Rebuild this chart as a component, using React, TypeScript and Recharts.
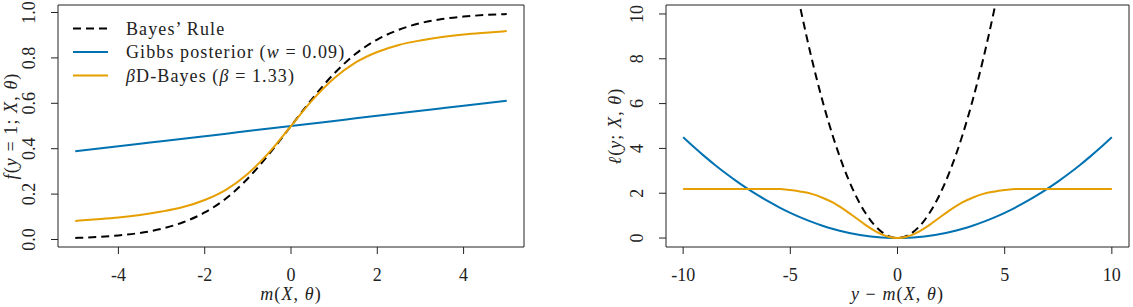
import React from "react";
import { LineChart, Line, XAxis, YAxis, ReferenceArea, Legend, Label } from "recharts";

// left panel: predictive probability against m(X, theta)
const probX = [-5, -4.5, -4, -3.5, -3, -2.5, -2, -1.5, -1, -0.5, 0, 0.5, 1, 1.5, 2, 2.5, 3, 3.5, 4, 4.5, 5];
const bayesProb = [0.007, 0.011, 0.018, 0.029, 0.047, 0.076, 0.119, 0.182, 0.269, 0.378, 0.5, 0.622, 0.731, 0.818, 0.881, 0.924, 0.953, 0.971, 0.982, 0.989, 0.993];
const gibbsProb = [0.389, 0.4, 0.411, 0.422, 0.433, 0.444, 0.455, 0.466, 0.478, 0.489, 0.5, 0.511, 0.522, 0.534, 0.545, 0.556, 0.567, 0.578, 0.589, 0.6, 0.611];
const betaProb = [0.082, 0.089, 0.097, 0.108, 0.123, 0.143, 0.174, 0.22, 0.29, 0.385, 0.5, 0.615, 0.71, 0.78, 0.826, 0.857, 0.877, 0.892, 0.903, 0.911, 0.918];

// right panel: loss against y - m(X, theta)
const lossX = [-10, -9.5, -9, -8.5, -8, -7.5, -7, -6.5, -6, -5.5, -5, -4.5, -4, -3.5, -3, -2.5, -2, -1.5, -1, -0.5, 0, 0.5, 1, 1.5, 2, 2.5, 3, 3.5, 4, 4.5, 5, 5.5, 6, 6.5, 7, 7.5, 8, 8.5, 9, 9.5, 10];
const bayesLoss = [null, null, null, null, null, null, null, null, null, null, 12.5, 10.125, 8, 6.125, 4.5, 3.125, 2, 1.125, 0.5, 0.125, 0, 0.125, 0.5, 1.125, 2, 3.125, 4.5, 6.125, 8, 10.125, 12.5, null, null, null, null, null, null, null, null, null, null];
const gibbsLoss = [4.5, 4.061, 3.645, 3.251, 2.88, 2.531, 2.205, 1.901, 1.62, 1.361, 1.125, 0.911, 0.72, 0.551, 0.405, 0.281, 0.18, 0.101, 0.045, 0.011, 0, 0.011, 0.045, 0.101, 0.18, 0.281, 0.405, 0.551, 0.72, 0.911, 1.125, 1.361, 1.62, 1.901, 2.205, 2.531, 2.88, 3.251, 3.645, 4.061, 4.5];
const betaLoss = [2.19, 2.19, 2.19, 2.19, 2.19, 2.19, 2.19, 2.19, 2.19, 2.19, 2.14, 2.07, 1.97, 1.8, 1.58, 1.28, 0.94, 0.59, 0.29, 0.08, 0, 0.08, 0.29, 0.59, 0.94, 1.28, 1.58, 1.8, 1.97, 2.07, 2.14, 2.19, 2.19, 2.19, 2.19, 2.19, 2.19, 2.19, 2.19, 2.19, 2.19];

const probTicksX = [-4, -2, 0, 2, 4];
const probTicksY = [0, 0.2, 0.4, 0.6, 0.8, 1];
const lossTicksX = [-10, -5, 0, 5, 10];
const lossTicksY = [0, 2, 4, 6, 8, 10];

const FONT = "'Liberation Serif', 'Times New Roman', serif";
const INK = "#222";
const BLUE = "#0072B2";
const ORANGE = "#E69F00";
const FS = 18;
const SPACING = 1.1;

const probData = probX.map((x, i) => ({ x, bayes: bayesProb[i], gibbs: gibbsProb[i], beta: betaProb[i] }));
const lossData = lossX.map((x, i) => ({ x, bayes: bayesLoss[i], gibbs: gibbsLoss[i], beta: betaLoss[i] }));

const I = ({ children }: { children: React.ReactNode }) => <tspan fontStyle="italic">{children}</tspan>;

const xTick = (digits: number) => (p: any) => (
  <text x={p.x} y={p.y + 27} textAnchor="middle" fontSize={FS} fontFamily={FONT} fill={INK}>
    {Number(p.payload.value).toFixed(digits)}
  </text>
);

const yTick = (digits: number) => (p: any) => {
  const tx = p.x - 16;
  return (
    <text x={tx} y={p.y} transform={`rotate(-90 ${tx} ${p.y})`} textAnchor="middle" fontSize={FS} fontFamily={FONT} fill={INK}>
      {Number(p.payload.value).toFixed(digits)}
    </text>
  );
};

const xTitle = (content: React.ReactNode) => (p: any) => {
  const vb = p.viewBox;
  return (
    <text x={vb.x + vb.width / 2} y={vb.y + 53} textAnchor="middle" fontSize={FS} fontFamily={FONT} fill={INK} letterSpacing={SPACING}>
      {content}
    </text>
  );
};

const yTitle = (content: React.ReactNode, fromPlot: number) => (p: any) => {
  const vb = p.viewBox;
  const tx = vb.x + vb.width - fromPlot;
  const ty = vb.y + vb.height / 2;
  return (
    <text x={tx} y={ty} transform={`rotate(-90 ${tx} ${ty})`} textAnchor="middle" fontSize={FS} fontFamily={FONT} fill={INK} letterSpacing={SPACING}>
      {content}
    </text>
  );
};

const legendRows = [
  { label: <>Bayes’ Rule</>, color: "#000", dash: "8 5" },
  { label: <>Gibbs posterior (<I>w</I> = 0.09)</>, color: BLUE, dash: undefined },
  { label: <><I>β</I>D-Bayes (<I>β</I> = 1.33)</>, color: ORANGE, dash: undefined },
];

const renderLegend = () => (
  <svg width={380} height={95} style={{ display: "block" }}>
    {legendRows.map((r, i) => {
      const y = 28.5 + i * 23.5;
      return (
        <g key={i}>
          <line x1={73} x2={108} y1={y} y2={y} stroke={r.color} strokeWidth={2} strokeDasharray={r.dash} />
          <text x={126} y={y + 6} fontSize={FS} fontFamily={FONT} fill={INK} letterSpacing={SPACING}>{r.label}</text>
        </g>
      );
    })}
  </svg>
);

const PROB_X = [-5.4, 5.4];
const PROB_Y = [-0.033, 1.033];
const LOSS_X = [-10.8, 10.8];
const LOSS_Y = [-0.4, 10.4];

export default function App() {
  return (
    <div style={{ position: "absolute", left: 0, top: 0, width: 1133, height: 307, background: "#fff", display: "flex", fontFamily: FONT }}>
      <LineChart width={560} height={307} data={probData} margin={{ top: 5, right: 36, bottom: 0, left: 0 }}>
        <XAxis dataKey="x" type="number" domain={PROB_X} ticks={probTicksX} allowDataOverflow axisLine={false} tickLine={{ stroke: INK }} tickSize={7} tickMargin={0} height={60} tick={xTick(0)}>
          <Label content={xTitle(<><I>m</I>(<I>X</I>, <I>θ</I>)</>)} />
        </XAxis>
        <YAxis type="number" domain={PROB_Y} ticks={probTicksY} allowDataOverflow axisLine={false} tickLine={{ stroke: INK }} tickSize={7} tickMargin={0} width={58} tick={yTick(1)}>
          <Label content={yTitle(<><I>f</I>(<I>y</I> = 1; <I>X</I>, <I>θ</I>)</>, 41)} />
        </YAxis>
        <ReferenceArea x1={PROB_X[0]} x2={PROB_X[1]} y1={PROB_Y[0]} y2={PROB_Y[1]} fill="none" stroke={INK} strokeWidth={1} fillOpacity={0} />
        <Legend layout="vertical" align="center" verticalAlign="middle" content={renderLegend} wrapperStyle={{ left: 0, top: 0, width: 380, height: 95 }} />
        <Line type="monotone" dataKey="bayes" stroke="#000" strokeWidth={2} strokeDasharray="8 5" dot={false} activeDot={false} isAnimationActive={false} />
        <Line type="monotone" dataKey="gibbs" stroke={BLUE} strokeWidth={2} dot={false} activeDot={false} isAnimationActive={false} />
        <Line type="monotone" dataKey="beta" stroke={ORANGE} strokeWidth={2} dot={false} activeDot={false} isAnimationActive={false} />
      </LineChart>
      <LineChart width={573} height={307} data={lossData} margin={{ top: 5, right: 4, bottom: 0, left: 0 }}>
        <XAxis dataKey="x" type="number" domain={LOSS_X} ticks={lossTicksX} allowDataOverflow axisLine={false} tickLine={{ stroke: INK }} tickSize={7} tickMargin={0} height={60} tick={xTick(0)}>
          <Label content={xTitle(<><I>y</I> − <I>m</I>(<I>X</I>, <I>θ</I>)</>)} />
        </XAxis>
        <YAxis type="number" domain={LOSS_Y} ticks={lossTicksY} allowDataOverflow axisLine={false} tickLine={{ stroke: INK }} tickSize={7} tickMargin={0} width={106} tick={yTick(0)}>
          <Label content={yTitle(<><I>ℓ</I>(<I>y</I>; <I>X</I>, <I>θ</I>)</>, 45)} />
        </YAxis>
        <ReferenceArea x1={LOSS_X[0]} x2={LOSS_X[1]} y1={LOSS_Y[0]} y2={LOSS_Y[1]} fill="none" stroke={INK} strokeWidth={1} fillOpacity={0} />
        <Line type="monotone" dataKey="bayes" stroke="#000" strokeWidth={2} strokeDasharray="8 5" dot={false} activeDot={false} isAnimationActive={false} />
        <Line type="monotone" dataKey="gibbs" stroke={BLUE} strokeWidth={2} dot={false} activeDot={false} isAnimationActive={false} />
        <Line type="monotone" dataKey="beta" stroke={ORANGE} strokeWidth={2} dot={false} activeDot={false} isAnimationActive={false} />
      </LineChart>
    </div>
  );
}
